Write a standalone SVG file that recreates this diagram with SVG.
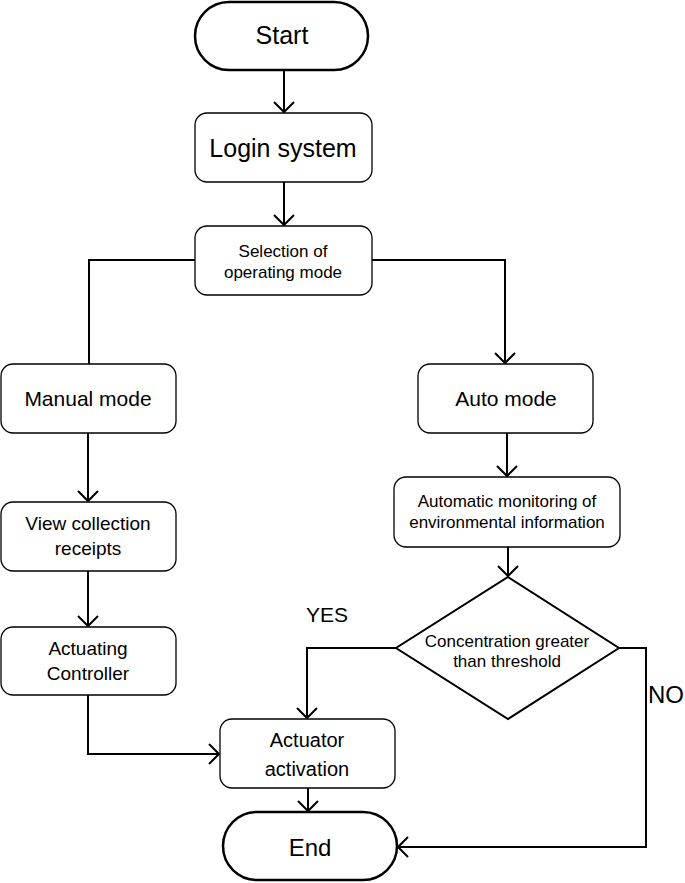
<svg xmlns="http://www.w3.org/2000/svg" width="685" height="883" viewBox="0 0 685 883">
<style>
.box{fill:#fff;stroke:#000;stroke-width:1.3}
.term{fill:#fff;stroke:#000;stroke-width:2.5}
.t{font-family:"Liberation Sans",Arial,sans-serif;fill:#000;text-anchor:middle}
.c{fill:none;stroke:#000;stroke-width:2}
</style>
<defs>
<marker id="arr" markerUnits="userSpaceOnUse" markerWidth="24" markerHeight="24" viewBox="-12 -12 24 24" refX="0" refY="0" orient="auto">
<path d="M-10,-10 L0,0 L-10,10" fill="none" stroke="#000" stroke-width="2"/>
</marker>
</defs>
<rect width="685" height="883" fill="#fff"/>
<g id="connectors">
<path class="c" d="M284,70 L284,112" marker-end="url(#arr)"/>
<path class="c" d="M284,182 L284,225" marker-end="url(#arr)"/>
<path class="c" d="M195,260 L89,260 L89,364"/>
<path class="c" d="M372,260 L505,260 L505,363" marker-end="url(#arr)"/>
<path class="c" d="M507,433 L507,476" marker-end="url(#arr)"/>
<path class="c" d="M508,547 L508,576" marker-end="url(#arr)"/>
<path class="c" d="M88,433 L88,501" marker-end="url(#arr)"/>
<path class="c" d="M88,571 L88,626" marker-end="url(#arr)"/>
<path class="c" d="M88,695 L88,754 L219,754" marker-end="url(#arr)"/>
<path class="c" d="M396,648 L307,648 L307,718" marker-end="url(#arr)"/>
<path class="c" d="M619,648 L646,648 L646,847 L398,847" marker-end="url(#arr)"/>
<path class="c" d="M308,788 L308,811" marker-end="url(#arr)"/>
</g>
<g id="start">
<rect class="term" x="195" y="2" width="173" height="68" rx="34" ry="34"/>
<text class="t" x="282" y="44" font-size="25">Start</text>
</g>
<g id="login">
<rect class="box" x="195" y="113" width="177" height="69" rx="12"/>
<text class="t" x="283" y="157" font-size="25">Login system</text>
</g>
<g id="selection">
<rect class="box" x="195" y="226" width="177" height="69" rx="12"/>
<text class="t" x="283" y="257" font-size="17">Selection of</text>
<text class="t" x="283" y="278" font-size="17">operating mode</text>
</g>
<g id="manual">
<rect class="box" x="1" y="364" width="175" height="69" rx="12"/>
<text class="t" x="88" y="406" font-size="21">Manual mode</text>
</g>
<g id="view">
<rect class="box" x="1" y="502" width="175" height="69" rx="12"/>
<text class="t" x="88" y="530" font-size="19">View collection</text>
<text class="t" x="88" y="555" font-size="19">receipts</text>
</g>
<g id="actuating">
<rect class="box" x="1" y="627" width="175" height="68" rx="12"/>
<text class="t" x="88" y="655" font-size="19">Actuating</text>
<text class="t" x="88" y="680" font-size="19">Controller</text>
</g>
<g id="auto">
<rect class="box" x="418" y="364" width="175" height="69" rx="12"/>
<text class="t" x="506" y="406" font-size="21">Auto mode</text>
</g>
<g id="monitor">
<rect class="box" x="394" y="477" width="226" height="70" rx="12"/>
<text class="t" x="507" y="507" font-size="17">Automatic monitoring of</text>
<text class="t" x="507" y="528" font-size="17">environmental information</text>
</g>
<g id="decision">
<polygon class="box" style="stroke-width:2" points="508,577 619,648 508,719 396,648"/>
<text class="t" x="507" y="647" font-size="17">Concentration greater</text>
<text class="t" x="507" y="667" font-size="17">than threshold</text>
</g>
<g id="actuator">
<rect class="box" x="220" y="719" width="175" height="69" rx="12"/>
<text class="t" x="307" y="747" font-size="20">Actuator</text>
<text class="t" x="307" y="776" font-size="20">activation</text>
</g>
<g id="end">
<rect class="term" x="223" y="812" width="174" height="68" rx="34" ry="34"/>
<text class="t" x="310" y="856" font-size="24">End</text>
</g>
<g id="labels">
<text class="t" x="327" y="622" font-size="21">YES</text>
<text class="t" x="666" y="703" font-size="24">NO</text>
</g>
</svg>
